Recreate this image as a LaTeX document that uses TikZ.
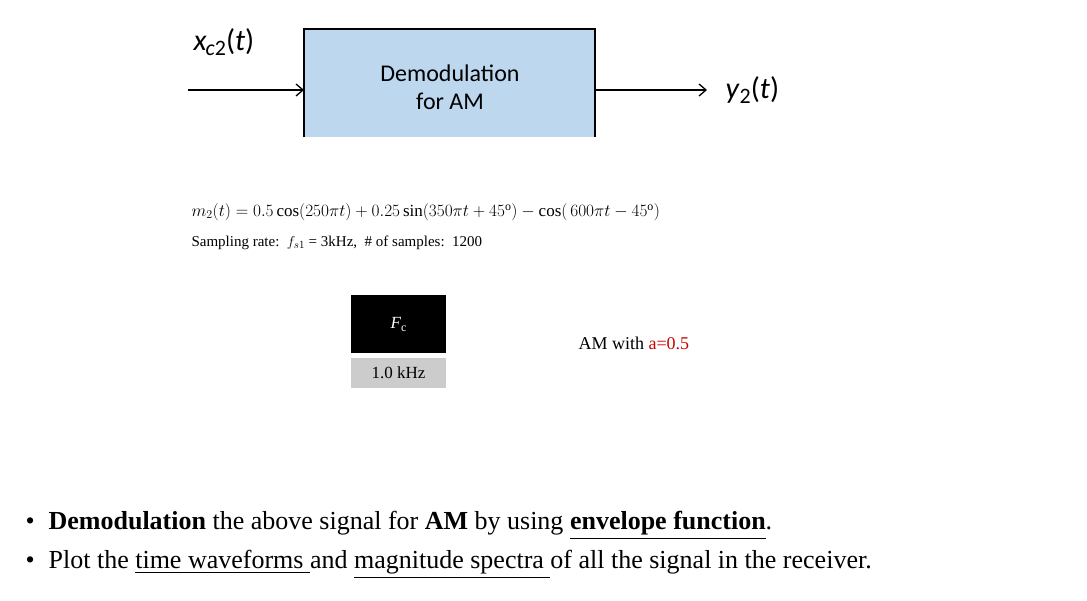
\documentclass[tikz,border=0pt]{standalone}
\usepackage{amsmath}
\usepackage{fontspec}
\setmainfont{Liberation Serif}
\newfontfamily\calfont{Carlito}
\usetikzlibrary{arrows.meta}
\begin{document}
\begin{tikzpicture}[x=1pt,y=-1pt,
  blocktxt/.style={font=\calfont\fontsize{24}{30}\selectfont},
  arr/.style={draw, line width=1.3pt, -{Straight Barb[length=7pt,width=12pt]}}]
\useasboundingbox (0,0) rectangle (1087,600);
% block
\fill[fill={rgb,255:red,189;green,215;blue,238}] (304,29) rectangle (595,137);
\draw[line width=1.6pt] (304,137) -- (304,29) -- (595,29) -- (595,137);
\node[blocktxt, align=center] (blk) at (450,87) {Demodulation\\[-2pt]for AM};
\coordinate (bin) at (304,90);
\coordinate (bout) at (595,90);
\coordinate (src) at (188,90);
\coordinate (dst) at (707,90);
\draw[arr] (src) -- (bin);
\draw[arr] (bout) -- (dst);
\node[font=\calfont\fontsize{30}{34}\selectfont, anchor=west] (xin) at (190,42) {\textit{x}\kern-1pt\raisebox{-5pt}{\fontsize{22}{24}\selectfont\textit{c}2}(\textit{t})};
\node[font=\calfont\fontsize{30}{34}\selectfont, anchor=west] (yout) at (722,90) {\textit{y}\raisebox{-5pt}{\fontsize{22}{24}\selectfont 2}(\textit{t})};
% formula
\node[anchor=west, font=\fontsize{17}{20}\selectfont] (eq) at (188,212)
  {$m_2(t)=0.5\cos(250\pi t)+0.25\sin(350\pi t+45^{\mathrm{o}})-\cos(\,600\pi t-45^{\mathrm{o}})$};
\node[anchor=west, font=\fontsize{15}{18}\selectfont] (samp) at (188,243)
  {Sampling rate:\ \ $f_{s1}$ = 3kHz,\ \ \# of samples:\ \ 1200};
% Fc
\node[fill=black, minimum width=95pt, minimum height=58pt, inner sep=0pt, text=white,
  font=\fontsize{17}{20}\selectfont] (fc) at (398.5,324) {\textit{F}\raisebox{-3pt}{\fontsize{12}{14}\selectfont c}};
\node[fill={rgb,255:red,204;green,204;blue,204}, minimum width=95pt, minimum height=30pt, inner sep=0pt,
  font=\fontsize{17}{20}\selectfont] (fcv) at (398.5,373) {1.0 kHz};
\node[anchor=west, font=\fontsize{18}{20}\selectfont] (am) at (575,343) {AM with \textcolor{red!80!black}{a=0.5}};
% bullets
\node[anchor=west, font=\fontsize{26}{30}\selectfont] (b1) at (22,526)
  {\textbullet\hspace{14pt}\textbf{Demodulation} the above signal for \textbf{AM} by using \underline{\textbf{envelope function}}.};
\node[anchor=west, font=\fontsize{26}{30}\selectfont] (b2) at (22,565)
  {\textbullet\hspace{14pt}Plot the \underline{time waveforms\ }and \underline{magnitude spectra\ }of all the signal in the receiver.};
\end{tikzpicture}
\end{document}
